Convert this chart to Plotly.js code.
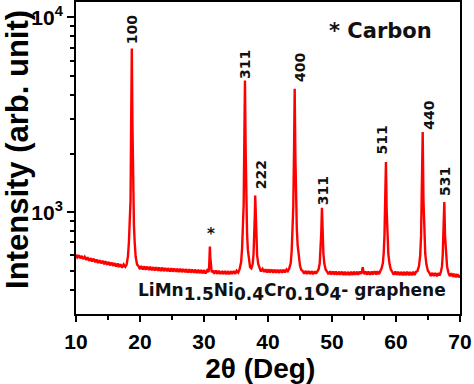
<!DOCTYPE html>
<html>
<head>
<meta charset="utf-8">
<script src="https://cdn.plot.ly/plotly-3.0.1.min.js"></script>
<style>html,body{margin:0;padding:0;background:#fff;}#chart{width:474px;height:384px;}</style>
</head>
<body>
<div id="chart"></div>
<script>
const twoTheta = [
10.0,10.2,10.45,10.65,10.9,11.1,11.35,11.6,11.8,12.05,
12.3,12.5,12.75,13.0,13.2,13.45,13.7,13.9,14.15,14.4,
14.6,14.85,15.1,15.3,15.55,15.8,16.0,16.25,16.5,16.7,
16.95,17.2,17.45,17.7,
17.9,18.12,18.27,18.39,18.52,18.62,18.72,18.82,18.92,19.05,19.17,19.32,19.55,
19.75,20.0,20.2,20.45,20.7,20.9,21.15,21.4,21.6,21.85,
22.1,22.3,22.55,22.8,23.0,23.25,23.5,23.7,23.95,24.2,
24.4,24.65,24.9,25.1,25.35,25.6,25.8,26.05,26.3,26.5,
26.75,27.0,27.2,27.45,27.7,27.9,28.15,28.4,28.6,28.85,
29.1,29.3,29.55,29.8,30.0,30.25,30.5,30.7,
30.8,30.87,30.92,30.98,31.06,31.2,
31.4,31.6,31.85,32.1,32.3,32.55,32.8,33.0,33.25,33.5,
33.7,33.95,34.2,34.4,34.65,34.9,35.1,35.35,
35.55,35.8,35.95,36.07,36.2,36.3,36.4,36.5,36.6,36.72,36.85,37.0,37.2,37.4,
37.6,37.74,37.86,37.94,38.0,38.08,38.17,38.3,38.48,38.7,
38.9,39.15,39.4,39.6,39.85,40.1,40.3,40.55,40.8,41.0,
41.25,41.5,41.7,41.95,42.2,42.4,42.65,42.9,43.1,
43.3,43.55,43.7,43.82,43.95,44.07,44.17,44.27,44.37,44.5,44.63,44.8,45.0,45.2,
45.4,45.65,45.9,46.1,46.35,46.6,46.8,47.05,47.3,47.5,47.7,
47.9,48.08,48.2,48.32,48.43,48.53,48.65,48.8,49.0,
49.2,49.45,49.7,49.9,50.15,50.4,50.6,50.85,51.1,51.3,
51.55,51.8,52.0,52.25,52.5,52.7,52.95,53.2,53.4,53.65,
53.9,54.1,54.35,54.55,
54.7,54.8,54.9,55.05,
55.25,55.5,55.7,55.95,56.2,56.4,56.65,56.9,57.1,57.35,57.55,
57.75,57.95,58.08,58.2,58.32,58.43,58.54,58.67,58.8,59.0,59.2,
59.4,59.65,59.9,60.1,60.35,60.6,60.8,61.05,61.3,61.5,
61.75,62.0,62.2,62.45,62.7,62.9,63.15,
63.35,63.6,63.78,63.92,64.05,64.17,64.29,64.42,64.57,64.75,64.98,
65.2,65.45,65.7,65.9,66.15,66.4,66.6,66.8,
67.0,67.18,67.3,67.43,67.55,67.66,67.79,67.98,68.2,
68.4,68.65,68.9,69.1,69.35,69.6,69.8,70.0
];
const intensity = [
606,586,601,579,596,574,590,569,586,563,
581,558,577,554,572,549,567,546,563,541,
559,537,555,533,551,530,548,526,545,523,
541,519,539,524,
536,595,705,880,1150,2900,6930,2800,1120,860,700,590,538,
530,510,529,508,527,506,525,505,524,503,
522,502,521,500,520,499,519,498,517,497,
516,496,515,495,514,494,513,493,512,492,
511,491,510,490,509,489,508,488,507,487,
506,486,505,485,504,485,503,492,
520,600,667,590,515,492,
502,483,501,482,500,481,499,481,498,480,
498,480,498,481,499,482,500,490,
508,555,650,820,1100,2300,4745,2200,1050,790,640,565,522,515,
540,610,750,960,1218,930,720,600,540,512,
496,511,493,509,491,508,490,507,489,507,
489,506,488,506,489,507,490,508,498,
512,548,630,790,1060,2100,4305,2000,1060,820,680,580,530,505,
500,483,499,482,498,481,498,481,497,483,499,
508,545,620,780,1053,770,615,545,508,
497,480,497,479,496,478,496,477,495,477,
495,476,494,476,494,475,494,476,495,477,
495,477,495,482,
500,522,498,480,
495,478,496,478,496,478,497,479,497,481,499,
515,548,615,760,1050,1808,1030,750,610,540,506,
495,477,496,476,495,475,494,475,494,474,
494,474,493,474,494,476,495,
498,530,600,760,1200,2577,1150,760,610,540,500,
489,471,488,470,487,469,486,473,
492,525,600,770,1126,760,600,525,488,
470,485,466,483,464,481,463,476
];
// labelled reflections
const peakPos   = [18.72, 30.92, 36.4, 38.0, 44.17, 48.43, 58.43, 64.17, 67.55];
const peakInt   = [6930, 667, 4745, 1218, 4305, 1053, 1808, 2577, 1126];
const peakLabel = ['100', '*', '311', '222', '400', '311', '511', '440', '531'];
// axis ticks
const xTickVals = [10, 20, 30, 40, 50, 60, 70];
const yTickVals = [1000, 10000];
const yTickText = ['10<sup>3</sup>', '10<sup>4</sup>'];
const yMinorVals = [400, 500, 600, 700, 800, 900, 2000, 3000, 4000, 5000, 6000, 7000, 8000, 9000];

const labelXShift = [0.6, 1, 0, 6, 6, 1, -4, 5.5, 0];
const labelGap    = [3, 2, 1, 5, 6, 2, 7, 1, 5];

const AR = 'Arial, "Liberation Sans", sans-serif';
const DJ = '"DejaVu Sans", Verdana, sans-serif';

const annotations = peakLabel.map((t, i) => ({
  x: peakPos[i], y: Math.log10(peakInt[i]), xref: 'x', yref: 'y',
  text: t, showarrow: false, textangle: t === '*' ? 0 : -90,
  xanchor: 'center', yanchor: 'bottom', xshift: labelXShift[i], yshift: labelGap[i],
  borderpad: 0,
  font: {family: DJ, size: t === '*' ? 15 : 14, color: '#111', weight: 'bold'}
}));
annotations.push({
  x: 0.794, y: 0.907, xref: 'paper', yref: 'paper', text: '* Carbon', showarrow: false,
  xanchor: 'center', yanchor: 'middle', font: {family: DJ, size: 21, color: '#111', weight: 'bold'}
});
const s = t => '<sub><span style="font-size:17px">' + t + '</span></sub>';
annotations.push({
  x: 0.156, y: 0.072, xref: 'paper', yref: 'paper',
  text: 'LiMn' + s('1.5') + 'Ni' + s('0.4') + 'Cr' + s('0.1') + 'O' + s('4') + '- graphene',
  showarrow: false, xanchor: 'left', yanchor: 'middle',
  font: {family: DJ, size: 17, color: '#111', weight: 'bold'}
});

const trace = {
  x: twoTheta, y: intensity, type: 'scatter', mode: 'lines',
  line: {color: '#ff0000', width: 2.4}, hoverinfo: 'skip'
};

const layout = {
  width: 474, height: 384,
  margin: {l: 76, r: 14, t: 2, b: 70},
  paper_bgcolor: '#fff', plot_bgcolor: '#fff',
  showlegend: false,
  xaxis: {
    range: [10, 70], tickmode: 'array', tickvals: xTickVals,
    ticks: 'outside', ticklen: 6, tickwidth: 2, tickcolor: '#000', ticklabelstandoff: 2,
    minor: {dtick: 5, tick0: 10, ticks: 'outside', ticklen: 3.5, tickwidth: 2, tickcolor: '#000'},
    showline: true, linewidth: 2, linecolor: '#000', mirror: true,
    showgrid: false, zeroline: false,
    tickfont: {family: AR, size: 21, color: '#000', weight: 'bold'},
    title: {text: '2θ (Deg)&nbsp;&nbsp;', font: {family: AR, size: 28, color: '#000', weight: 'bold'}, standoff: 2}
  },
  yaxis: {
    type: 'log', range: [Math.log10(300), Math.log10(12000)],
    tickmode: 'array', tickvals: yTickVals, ticktext: yTickText,
    ticks: 'outside', ticklen: 7, tickwidth: 2, tickcolor: '#000',
    minor: {tickmode: 'array', tickvals: yMinorVals, ticks: 'outside', ticklen: 4, tickwidth: 2, tickcolor: '#000'},
    showline: true, linewidth: 2, linecolor: '#000', mirror: true,
    showgrid: false, zeroline: false,
    tickfont: {family: AR, size: 21, color: '#000', weight: 'bold'},
    title: {text: '&nbsp;&nbsp;Intensity (arb. unit)', font: {family: AR, size: 31, color: '#000', weight: 'bold'}, standoff: 4}
  },
  annotations: annotations
};

Plotly.newPlot('chart', [trace], layout, {displayModeBar: false, staticPlot: true});
</script>
</body>
</html>
